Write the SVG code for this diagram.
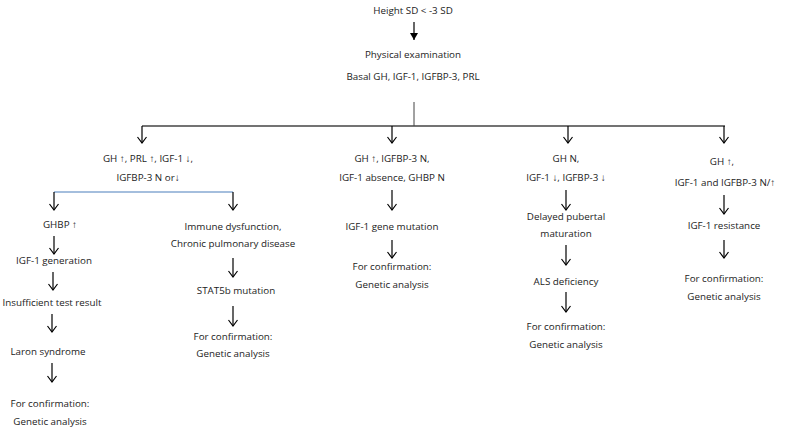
<svg xmlns="http://www.w3.org/2000/svg" width="785" height="430" viewBox="0 0 785 430">
<defs>
<marker id="open" markerWidth="10" markerHeight="10" refX="9" refY="5" orient="auto" markerUnits="userSpaceOnUse" viewBox="0 0 10 10"><polyline points="3,0.5 9,5 3,9.5" fill="none" stroke="#000" stroke-width="1.2"/></marker>
<marker id="filled" markerWidth="8" markerHeight="8" refX="8" refY="4" orient="auto" markerUnits="userSpaceOnUse" viewBox="0 0 8 8"><polygon points="1,0 8,4 1,8" fill="#000"/></marker>
<style>
text{font-family:"Open Sans","Liberation Sans",sans-serif;font-size:9.8px;fill:#222;text-anchor:middle}
.c{stroke:#000;stroke-width:1.2;fill:none}
.a{stroke:#000;stroke-width:1.2;fill:none;marker-end:url(#open)}
</style>
</defs>
<g id="connectors">
<line x1="414" y1="22" x2="414" y2="40" class="c" marker-end="url(#filled)"/>
<line x1="414" y1="102" x2="414" y2="126" stroke="#444" stroke-width="1"/>
<line x1="142" y1="126" x2="725" y2="126" stroke="#444" stroke-width="1.5"/>
<line x1="142" y1="126" x2="142" y2="143" class="a"/>
<line x1="392" y1="126" x2="392" y2="143" class="a"/>
<line x1="568" y1="126" x2="568" y2="143" class="a"/>
<line x1="724" y1="126" x2="724" y2="143" class="a"/>
<line x1="54" y1="192" x2="233" y2="192" stroke="#4a7ebb" stroke-width="1.2"/>
<line x1="54" y1="192" x2="54" y2="210" class="a"/>
<line x1="233" y1="192" x2="233" y2="210" class="a"/>
<line x1="54" y1="236" x2="54" y2="254" class="a"/>
<line x1="53" y1="272" x2="53" y2="290" class="a"/>
<line x1="52" y1="314" x2="52" y2="332" class="a"/>
<line x1="52" y1="363" x2="52" y2="382" class="a"/>
<line x1="233" y1="258" x2="233" y2="277" class="a"/>
<line x1="233" y1="306" x2="233" y2="326" class="a"/>
<line x1="392" y1="190" x2="392" y2="210" class="a"/>
<line x1="392" y1="240" x2="392" y2="258" class="a"/>
<line x1="566" y1="190" x2="566" y2="210" class="a"/>
<line x1="566" y1="245" x2="566" y2="265" class="a"/>
<line x1="566" y1="292" x2="566" y2="312" class="a"/>
<line x1="724" y1="195" x2="724" y2="214" class="a"/>
<line x1="724" y1="240" x2="724" y2="258" class="a"/>
</g>
<g id="n-top"><text x="413" y="14">Height SD &lt; -3 SD</text></g>
<g id="n-exam"><text x="413" y="58">Physical examination</text><text x="413" y="80">Basal GH, IGF-1, IGFBP-3, PRL</text></g>
<g id="n-c1"><text x="148" y="162">GH ↑, PRL ↑, IGF-1 ↓,</text><text x="148" y="181">IGFBP-3 N or↓</text></g>
<g id="n-ghbp"><text x="60" y="228">GHBP ↑</text></g>
<g id="n-gen"><text x="54" y="264">IGF-1 generation</text></g>
<g id="n-insuf"><text x="52" y="306">Insufficient test result</text></g>
<g id="n-laron"><text x="48" y="355">Laron syndrome</text></g>
<g id="n-conf1"><text x="50" y="407">For confirmation:</text><text x="50" y="425">Genetic analysis</text></g>
<g id="n-immune"><text x="233" y="230">Immune dysfunction,</text><text x="233" y="247">Chronic pulmonary disease</text></g>
<g id="n-stat"><text x="236" y="294">STAT5b mutation</text></g>
<g id="n-conf2"><text x="233" y="340">For confirmation:</text><text x="233" y="357">Genetic analysis</text></g>
<g id="n-c2"><text x="392" y="162">GH ↑, IGFBP-3 N,</text><text x="392" y="181">IGF-1 absence, GHBP N</text></g>
<g id="n-igfmut"><text x="392" y="230">IGF-1 gene mutation</text></g>
<g id="n-conf3"><text x="392" y="270">For confirmation:</text><text x="392" y="288">Genetic analysis</text></g>
<g id="n-c3"><text x="566" y="162">GH N,</text><text x="566" y="181">IGF-1 ↓, IGFBP-3 ↓</text></g>
<g id="n-delay"><text x="566" y="220">Delayed pubertal</text><text x="566" y="237">maturation</text></g>
<g id="n-als"><text x="566" y="285">ALS deficiency</text></g>
<g id="n-conf4"><text x="566" y="330">For confirmation:</text><text x="566" y="348">Genetic analysis</text></g>
<g id="n-c4"><text x="722" y="165">GH ↑,</text><text x="725" y="186">IGF-1 and IGFBP-3  N/↑</text></g>
<g id="n-res"><text x="724" y="229">IGF-1 resistance</text></g>
<g id="n-conf5"><text x="724" y="282">For confirmation:</text><text x="724" y="300">Genetic analysis</text></g>
</svg>
